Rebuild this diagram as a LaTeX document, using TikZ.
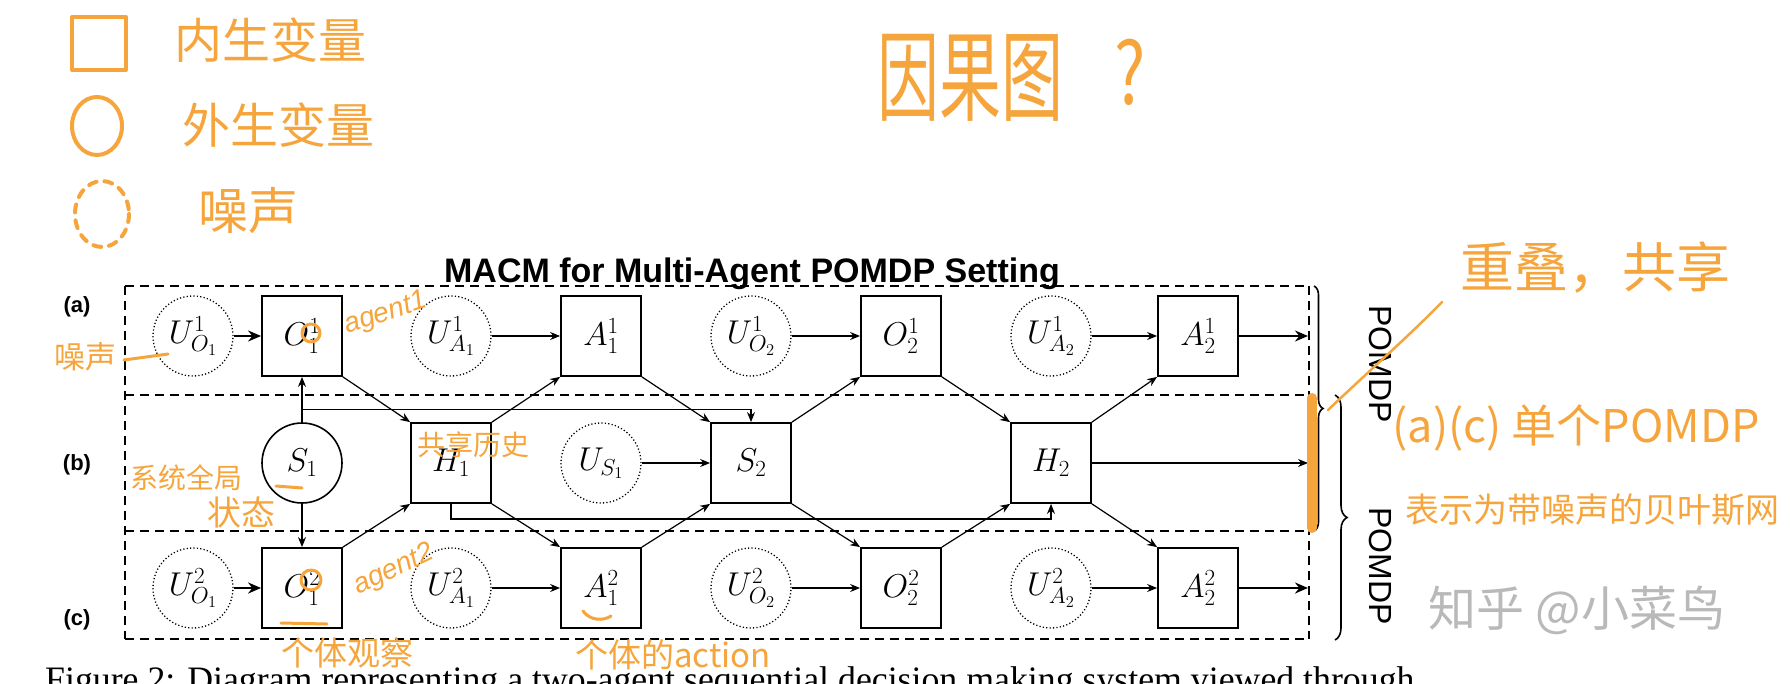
\RequirePackage{fix-cm}
\documentclass[tikz,border=0pt]{standalone}
\usepackage{amsmath}
\usepackage[no-math]{fontspec}
\setmainfont{Liberation Serif}
\newfontfamily\arialfont{Liberation Sans}
\newfontfamily\cjk{Noto Sans CJK SC}
\usetikzlibrary{arrows.meta,decorations.pathreplacing}
\definecolor{hand}{RGB}{245,165,60}
\newcommand\msz{\fontsize{33}{38}\selectfont}
\newcommand\hs[1]{\fontsize{#1}{#1}\selectfont}
\begin{document}
\begin{tikzpicture}[x=1pt,y=-1pt,
  boxnode/.style={draw, line width=1.8pt, minimum size=80pt, inner sep=0pt, font=\msz},
  noise/.style={circle, draw, line width=1.3pt, dash pattern=on 1.2pt off 2.2pt, minimum size=80pt, inner sep=0pt, font=\msz},
  statenode/.style={circle, draw, line width=1.6pt, minimum size=80pt, inner sep=0pt, font=\msz},
  conn/.style={-{Stealth[length=10pt,width=8pt]}, line width=1.2pt},
  bigconn/.style={-{Stealth[length=13pt,width=11pt]}, line width=2.4pt},
  frame/.style={dash pattern=on 9pt off 6pt, line width=2.4pt},
  hw/.style={text=hand, inner sep=0pt},
  hline/.style={hand, line width=3.5pt, line cap=round, line join=round}]
\clip (0,0) rectangle (1790,684);
\fill[white] (0,0) rectangle (1790,684);

% title and labels
\node[anchor=base, font=\arialfont\bfseries\hs{34}] (title) at (752,283) {MACM for Multi-Agent POMDP Setting};
\node[font=\arialfont\bfseries\hs{22}] (la) at (77,307) {(a)};
\node[font=\arialfont\bfseries\hs{22}] (lb) at (77,465) {(b)};
\node[font=\arialfont\bfseries\hs{22}] (lc) at (77,620) {(c)};

% dashed frames
\draw[frame] (125,286) -- (1309,286);
\draw[frame] (125,395) -- (1309,395);
\draw[frame] (125,531) -- (1309,531);
\draw[frame] (125,639) -- (1309,639);
\draw[frame] (125,286) -- (125,639);
\draw[frame] (1309,286) -- (1309,639);

% braces
\draw[decorate, decoration={brace, amplitude=9pt}, line width=1.6pt] (1314,286) -- (1314,531);
\draw[decorate, decoration={brace, amplitude=12pt}, line width=1.6pt] (1335,395) -- (1335,640);
\node[rotate=-90, font=\arialfont\hs{32}] (p1) at (1380,364) {POMDP};
\node[rotate=-90, font=\arialfont\hs{32}] (p2) at (1380,566) {POMDP};

% row (a)
\node[noise] (UO1a) at (193,336) {$U^{1}_{O_1}$};
\node[boxnode] (O1a) at (302,336) {$O^{1}_{1}$};
\node[noise] (UA1a) at (451,336) {$U^{1}_{A_1}$};
\node[boxnode] (A1a) at (601,336) {$A^{1}_{1}$};
\node[noise] (UO2a) at (751,336) {$U^{1}_{O_2}$};
\node[boxnode] (O2a) at (901,336) {$O^{1}_{2}$};
\node[noise] (UA2a) at (1051,336) {$U^{1}_{A_2}$};
\node[boxnode] (A2a) at (1198,336) {$A^{1}_{2}$};
% row (b)
\node[statenode] (S1) at (302,463) {$S_1$};
\node[boxnode] (H1) at (451,463) {$H_1$};
\node[noise] (US1) at (601,463) {$U_{S_1}$};
\node[boxnode] (S2) at (751,463) {$S_2$};
\node[boxnode] (H2) at (1051,463) {$H_2$};
% row (c)
\node[noise] (UO1c) at (193,588) {$U^{2}_{O_1}$};
\node[boxnode] (O1c) at (302,588) {$O^{2}_{1}$};
\node[noise] (UA1c) at (451,588) {$U^{2}_{A_1}$};
\node[boxnode] (A1c) at (601,588) {$A^{2}_{1}$};
\node[noise] (UO2c) at (751,588) {$U^{2}_{O_2}$};
\node[boxnode] (O2c) at (901,588) {$O^{2}_{2}$};
\node[noise] (UA2c) at (1051,588) {$U^{2}_{A_2}$};
\node[boxnode] (A2c) at (1198,588) {$A^{2}_{2}$};

\coordinate (outa) at (1308,336);
\coordinate (outb) at (1308,463);
\coordinate (outc) at (1308,588);

% noise arrows
\draw[bigconn] (UO1a) -- (O1a);
\draw[bigconn] (UO1c) -- (O1c);
\draw[conn] (UA1a) -- (A1a);
\draw[conn] (UA1c) -- (A1c);
\draw[conn] (UO2a) -- (O2a);
\draw[conn] (UO2c) -- (O2c);
\draw[conn] (UA2a) -- (A2a);
\draw[conn] (UA2c) -- (A2c);
\draw[conn] (US1) -- (S2);
\draw[bigconn] (A2a) -- (outa);
\draw[bigconn] (A2c) -- (outc);
\draw[conn] (H2) -- (outb);

% state arrows
\draw[conn] (S1.north) -- (O1a.south);
\draw[conn] (S1.south) -- (O1c.north);
\draw[conn] (S1.north) -- ++(0,-13) -| (S2.north);
\draw[conn] (H1.south) -- ++(0,15) -| (H2.south);

% diagonal arrows
\draw[conn] (O1a.south east) -- (H1.north west);
\draw[conn] (O1c.north east) -- (H1.south west);
\draw[conn] (H1.north east) -- (A1a.south west);
\draw[conn] (H1.south east) -- (A1c.north west);
\draw[conn] (A1a.south east) -- (S2.north west);
\draw[conn] (A1c.north east) -- (S2.south west);
\draw[conn] (S2.north east) -- (O2a.south west);
\draw[conn] (S2.south east) -- (O2c.north west);
\draw[conn] (O2a.south east) -- (H2.north west);
\draw[conn] (O2c.north east) -- (H2.south west);
\draw[conn] (H2.north east) -- (A2a.south west);
\draw[conn] (H2.south east) -- (A2c.north west);

% caption (cut off)
\node[anchor=base west, inner sep=0pt] (cap) at (45,691) {\resizebox{1369pt}{!}{Figure 2: Diagram representing a two-agent sequential decision making system viewed through}};

% handwritten annotations
\draw[hline, line width=4pt] (72,17) rectangle (126,70);
\draw[hline, line width=4pt] (97,126) ellipse [x radius=25, y radius=29];
\draw[hline, line width=4pt, dash pattern=on 8pt off 8pt] (102,214) ellipse [x radius=27, y radius=33];
\node[hw, font=\cjk\hs{48}] (h1) at (270,40) {内生变量};
\node[hw, font=\cjk\hs{48}] (h2) at (278,125) {外生变量};
\node[hw, font=\cjk\hs{50}] (h3) at (248,211) {噪声};
\node[hw, font=\cjk\hs{62}] (h4) at (970,78) {\scalebox{1}[1.6]{因果图}};
\node[hw, font=\cjk\hs{66}] (h5) at (1130,72) {\scalebox{1}[1.3]{?}};
\node[hw, font=\cjk\hs{54}] (h6) at (1595,268) {重叠，共享};
\draw[hline, line width=2.5pt] (1328,410) .. controls (1370,370) and (1410,335) .. (1442,302);
\draw[hline, line width=10pt] (1312,398) -- (1312,528);
\node[hw, font=\cjk\hs{45}] (h7) at (1576,428) {(a)(c) 单个POMDP};
\node[hw, font=\cjk\hs{34}] (h8) at (1592,510) {表示为带噪声的贝叶斯网};
\node[text=gray!55, inner sep=0pt, font=\cjk\hs{48}] (wm) at (1577,610) {知乎 @小菜鸟};

\node[hw, font=\cjk\hs{31}] (h9) at (85,357) {噪声};
\draw[hline, line width=3pt] (124,360) -- (168,354);
\draw[hline, line width=3pt] (311,333) circle [radius=9];
\node[hw, rotate=18, font=\arialfont\itshape\hs{28}] (h10) at (386,314) {agent1};
\node[hw, font=\cjk\hs{28}] (h11) at (473,445) {共享历史};
\node[hw, font=\cjk\hs{28}] (h12) at (186,478) {系统全局};
\node[hw, font=\cjk\hs{34}] (h13) at (241,512) {状态};
\draw[hline, line width=3pt] (276,486) -- (302,488);
\draw[hline, line width=3pt] (311,580) circle [radius=10];
\node[hw, rotate=25, font=\arialfont\itshape\hs{28}] (h14) at (394,570) {agent2};
\draw[hline, line width=3pt] (281,623) -- (327,624);
\draw[hline, line width=3pt] (583,611) .. controls (590,621) and (604,621) .. (611,616);
\node[hw, font=\cjk\hs{33}] (h15) at (347,653) {个体观察};
\node[hw, font=\cjk\hs{33}] (h16) at (673,655) {个体的action};
\end{tikzpicture}
\end{document}
